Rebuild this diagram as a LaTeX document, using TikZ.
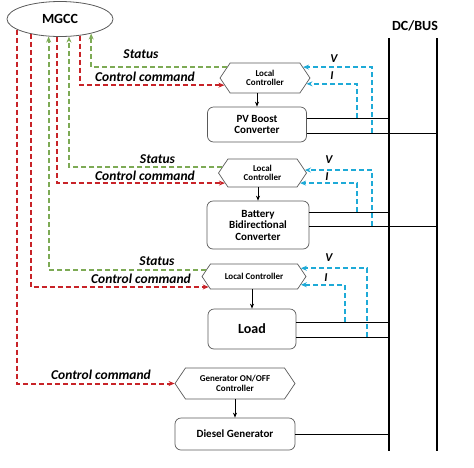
\documentclass[tikz,border=0pt]{standalone}
\usepackage{fontspec}
\setmainfont{Carlito}
\usetikzlibrary{shapes.geometric,shapes.symbols,arrows.meta}
\definecolor{cmdred}{RGB}{200,35,40}
\definecolor{statgreen}{RGB}{125,170,85}
\definecolor{meascyan}{RGB}{30,170,215}
\definecolor{boxgray}{RGB}{90,90,90}
\tikzset{
  hexa/.style={signal, signal to=west and east, signal pointer angle=112, draw=boxgray, line width=0.7pt, inner sep=0pt, align=center, font=\bfseries\fontsize{9}{9.5}\selectfont},
  blk/.style={rectangle, rounded corners=6pt, draw=boxgray, line width=0.7pt, align=center, font=\bfseries\fontsize{11}{11.5}\selectfont},
  cmd/.style={draw=cmdred, line width=2pt, dash pattern=on 5pt off 3pt, -{Stealth[length=6pt,width=5pt]}},
  stat/.style={draw=statgreen, line width=2pt, dash pattern=on 5pt off 3pt, -{Stealth[length=6pt,width=5pt]}},
  meas/.style={draw=meascyan, line width=2pt, dash pattern=on 5pt off 3pt, -{Stealth[length=6pt,width=5pt]}},
  wire/.style={draw=black, line width=0.9pt},
  bus/.style={draw=black, line width=1.8pt},
  down/.style={draw=black, line width=1pt, -{Stealth[length=5pt,width=4pt]}},
  lbl/.style={font=\bfseries\itshape\fontsize{13.5}{14}\selectfont, inner sep=0pt},
  vi/.style={font=\bfseries\itshape\fontsize{12}{12}\selectfont, inner sep=0pt},
}
\begin{document}
\begin{tikzpicture}[x=1pt,y=-1pt]
\useasboundingbox (0,0) rectangle (474,467);
% MGCC
\node[ellipse, draw=boxgray, line width=0.8pt, minimum width=106pt, minimum height=35pt, font=\bfseries\fontsize{14}{14}\selectfont] (mgcc) at (60,19) {MGCC};
% DC bus
\node[font=\bfseries\fontsize{14}{14}\selectfont, inner sep=0pt] (dcbus) at (415,26) {DC/BUS};
\coordinate (busLt) at (389,38);
\coordinate (busLb) at (389,451);
\coordinate (busRt) at (437,38);
\coordinate (busRb) at (437,451);
\draw[bus] (busLt) -- (busLb);
\draw[bus] (busRt) -- (busRb);

% ---------- PV row
\node[hexa, minimum width=90pt, minimum height=30pt] (ctl1) at (265,78) {Local\\Controller};
\node[blk, minimum width=99pt, minimum height=35pt] (box1) at (257,124.5) {PV Boost\\Converter};
\draw[down] (ctl1.south -| box1) -- (box1.north);
\coordinate (t1a) at (357,118);
\coordinate (t1b) at (372,133);
\draw[wire] (box1.east |- t1a) -- (busLt |- t1a);
\draw[wire] (box1.east |- t1b) -- (busRt |- t1b);
\draw[meas] (t1b) |- (ctl1.16);
\draw[meas] (t1a) |- (ctl1.-8);
\node[vi] (v1) at (334,59) {V};
\node[vi] (i1) at (332,76) {I};
\draw[stat] (ctl1.164) -| (mgcc.335);
\draw[cmd] (mgcc.321) |- (ctl1.190);
\node[lbl] (s1) at (141,54) {Status};
\node[lbl] (c1) at (145,77) {Control command};

% ---------- Battery row
\node[hexa, minimum width=88pt, minimum height=28pt] (ctl2) at (262.5,173) {Local\\Controller};
\node[blk, minimum width=102pt, minimum height=48pt] (box2) at (258,225) {Battery\\Bidirectional\\Converter};
\draw[down] (ctl2.south -| box2) -- (box2.north);
\coordinate (t2a) at (357,212);
\coordinate (t2b) at (372,226);
\draw[wire] (box2.east |- t2a) -- (busLt |- t2a);
\draw[wire] (box2.east |- t2b) -- (busRt |- t2b);
\draw[meas] (t2b) |- (ctl2.4);
\draw[meas] (t2a) |- (ctl2.-15);
\node[vi] (v2) at (329,160) {V};
\node[vi] (i2) at (327,177) {I};
\draw[stat] (ctl2.171.5) -| (mgcc.297);
\draw[cmd] (mgcc.260) |- (ctl2.195);
\node[lbl] (s2) at (157.5,159) {Status};
\node[lbl] (c2) at (145,176) {Control command};

% ---------- Load row
\node[hexa, minimum width=104pt, minimum height=25pt] (ctl3) at (254,276.5) {Local Controller};
\node[blk, minimum width=88pt, minimum height=40pt, font=\bfseries\fontsize{14}{14}\selectfont] (box3) at (252,329) {Load};
\draw[down] (ctl3.south -| box3) -- (box3.north);
\coordinate (t3a) at (345,322);
\coordinate (t3b) at (367,337);
\draw[wire] (box3.east |- t3a) -- (busLt |- t3a);
\draw[wire] (box3.east |- t3b) -- (busLt |- t3b);
\draw[meas] (t3b) |- (ctl3.10.4);
\draw[meas] (t3a) |- (ctl3.-10.4);
\node[vi] (v3) at (329,258) {V};
\node[vi] (i3) at (326,278) {I};
\draw[stat] (ctl3.172.2) -| (mgcc.237);
\draw[cmd] (mgcc.207) |- (ctl3.193.2);
\node[lbl] (s3) at (157,261) {Status};
\node[lbl] (c3) at (141,279) {Control command};

% ---------- Generator row
\node[hexa, minimum width=120pt, minimum height=31pt] (ctl4) at (235,383.5) {Generator ON/OFF\\Controller};
\node[blk, minimum width=120pt, minimum height=32pt] (box4) at (235,434) {Diesel Generator};
\draw[down] (ctl4.south -| box4) -- (box4.north);
\draw[wire] (box4.east) -- (busLt |- box4.east);
\draw[cmd] (mgcc.194) |- (ctl4.west);
\node[lbl] (c4) at (101,375) {Control command};
\end{tikzpicture}
\end{document}
